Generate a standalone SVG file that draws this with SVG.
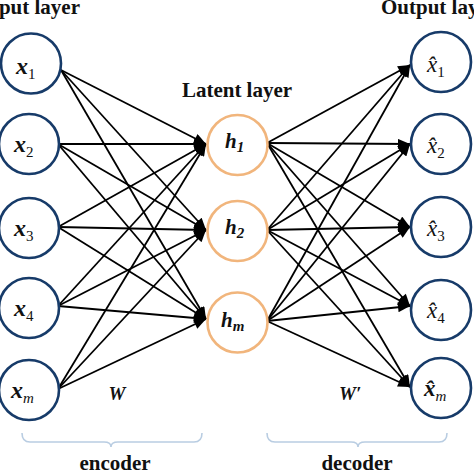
<svg xmlns="http://www.w3.org/2000/svg" width="474" height="474" viewBox="0 0 474 474">
<defs>
<style>
.io{fill:#fff;stroke:#173b69;stroke-width:2.6}
.hid{fill:#fff;stroke:#f1b57c;stroke-width:2.6}
.ln{stroke:#000;stroke-width:1.8;fill:none;marker-end:url(#ah)}
.title{font-family:"Liberation Serif",serif;font-weight:bold;font-size:21px;fill:#111}
.xb{font-family:"Liberation Serif",serif;font-weight:bold;font-style:italic;font-size:24px;fill:#111}
.xh{font-family:"Liberation Serif",serif;font-style:italic;font-size:23px;fill:#111}
.hb{font-family:"Liberation Serif",serif;font-weight:bold;font-style:italic;font-size:21px;fill:#111}
.sub{font-size:15px;font-style:normal;font-weight:normal}
.subi{font-size:15px;font-style:italic;font-weight:normal}
.hsub{font-size:15px}
.w{font-family:"Liberation Serif",serif;font-weight:bold;font-style:italic;font-size:19px;fill:#111}
.brace{fill:none;stroke:#b9cde2;stroke-width:1.6}
</style>
<marker id="ah" viewBox="0 0 12 10" refX="12" refY="5" markerWidth="13" markerHeight="10" markerUnits="userSpaceOnUse" orient="auto">
<path d="M0,0 L12,5 L0,10 Z" fill="#000"/>
</marker>
</defs>
<rect width="474" height="474" fill="#fff"/>

<g id="connectors">
<line class="ln" x1="61" y1="70" x2="206" y2="144"/>
<line class="ln" x1="61" y1="70" x2="206" y2="230"/>
<line class="ln" x1="61" y1="70" x2="206" y2="319"/>
<line class="ln" x1="58" y1="144" x2="206" y2="144"/>
<line class="ln" x1="58" y1="144" x2="206" y2="230"/>
<line class="ln" x1="58" y1="144" x2="206" y2="319"/>
<line class="ln" x1="58" y1="227" x2="206" y2="144"/>
<line class="ln" x1="58" y1="227" x2="206" y2="230"/>
<line class="ln" x1="58" y1="227" x2="206" y2="319"/>
<line class="ln" x1="58" y1="306" x2="206" y2="144"/>
<line class="ln" x1="58" y1="306" x2="206" y2="230"/>
<line class="ln" x1="58" y1="306" x2="206" y2="319"/>
<line class="ln" x1="58" y1="389" x2="206" y2="144"/>
<line class="ln" x1="58" y1="389" x2="206" y2="230"/>
<line class="ln" x1="58" y1="389" x2="206" y2="319"/>
<line class="ln" x1="267" y1="143" x2="410" y2="65"/>
<line class="ln" x1="267" y1="143" x2="410" y2="144"/>
<line class="ln" x1="267" y1="143" x2="410" y2="227"/>
<line class="ln" x1="267" y1="143" x2="410" y2="306"/>
<line class="ln" x1="267" y1="143" x2="410" y2="387"/>
<line class="ln" x1="267" y1="230" x2="410" y2="65"/>
<line class="ln" x1="267" y1="230" x2="410" y2="144"/>
<line class="ln" x1="267" y1="230" x2="410" y2="227"/>
<line class="ln" x1="267" y1="230" x2="410" y2="306"/>
<line class="ln" x1="267" y1="230" x2="410" y2="387"/>
<line class="ln" x1="267" y1="321" x2="410" y2="65"/>
<line class="ln" x1="267" y1="321" x2="410" y2="144"/>
<line class="ln" x1="267" y1="321" x2="410" y2="227"/>
<line class="ln" x1="267" y1="321" x2="410" y2="306"/>
<line class="ln" x1="267" y1="321" x2="410" y2="387"/>
</g>

<g id="in1"><circle class="io" cx="31" cy="63.5" r="30"/><text class="xb" x="16" y="74">x<tspan class="sub" dy="5">1</tspan></text></g>
<g id="in2"><circle class="io" cx="29" cy="144" r="30"/><text class="xb" x="14" y="152">x<tspan class="sub" dy="5">2</tspan></text></g>
<g id="in3"><circle class="io" cx="29" cy="228" r="30"/><text class="xb" x="14" y="236">x<tspan class="sub" dy="5">3</tspan></text></g>
<g id="in4"><circle class="io" cx="29" cy="308" r="30"/><text class="xb" x="14" y="316">x<tspan class="sub" dy="5">4</tspan></text></g>
<g id="inm"><circle class="io" cx="29" cy="390" r="30"/><text class="xb" x="11" y="398">x<tspan class="subi" dy="5">m</tspan></text></g>

<g id="h1"><circle class="hid" cx="237.5" cy="145" r="30"/><text class="hb" x="225" y="148">h<tspan class="hsub" dy="4">1</tspan></text></g>
<g id="h2"><circle class="hid" cx="237.5" cy="231" r="30"/><text class="hb" x="225" y="234">h<tspan class="hsub" dy="4">2</tspan></text></g>
<g id="hm"><circle class="hid" cx="237.5" cy="322.5" r="30"/><text class="hb" x="221" y="327">h<tspan class="hsub" dy="4">m</tspan></text></g>

<g id="out1"><circle class="io" cx="441" cy="62" r="30"/><text class="xh" x="427" y="72">x̂<tspan class="sub" dy="5">1</tspan></text></g>
<g id="out2"><circle class="io" cx="441" cy="144" r="30"/><text class="xh" x="427" y="153">x̂<tspan class="sub" dy="5">2</tspan></text></g>
<g id="out3"><circle class="io" cx="441" cy="227" r="30"/><text class="xh" x="427" y="236">x̂<tspan class="sub" dy="5">3</tspan></text></g>
<g id="out4"><circle class="io" cx="441" cy="310" r="30"/><text class="xh" x="427" y="318">x̂<tspan class="sub" dy="5">4</tspan></text></g>
<g id="outm"><circle class="io" cx="441" cy="388" r="30"/><text class="xh" x="424" y="396" font-weight="bold">x̂<tspan class="subi" dy="5">m</tspan></text></g>

<g id="labels">
<text class="title" x="80" y="14" text-anchor="end">Input layer</text>
<text class="title" x="381" y="14">Output layer</text>
<text class="title" x="237" y="97" text-anchor="middle">Latent layer</text>
<text class="w" x="117" y="400" text-anchor="middle">W</text>
<text class="w" x="339" y="400">W′</text>
<text class="title" x="115" y="470" text-anchor="middle">encoder</text>
<text class="title" x="357" y="470" text-anchor="middle">decoder</text>
</g>

<g id="braces">
<path class="brace" d="M22,433 Q22,442 30,442 L104,442 Q111,442 111,447 Q111,442 118,442 L194,442 Q202,442 202,433"/>
<path class="brace" d="M267,433 Q267,442 275,442 L351,442 Q358,442 358,447 Q358,442 365,442 L439,442 Q447,442 447,433"/>
</g>
</svg>
